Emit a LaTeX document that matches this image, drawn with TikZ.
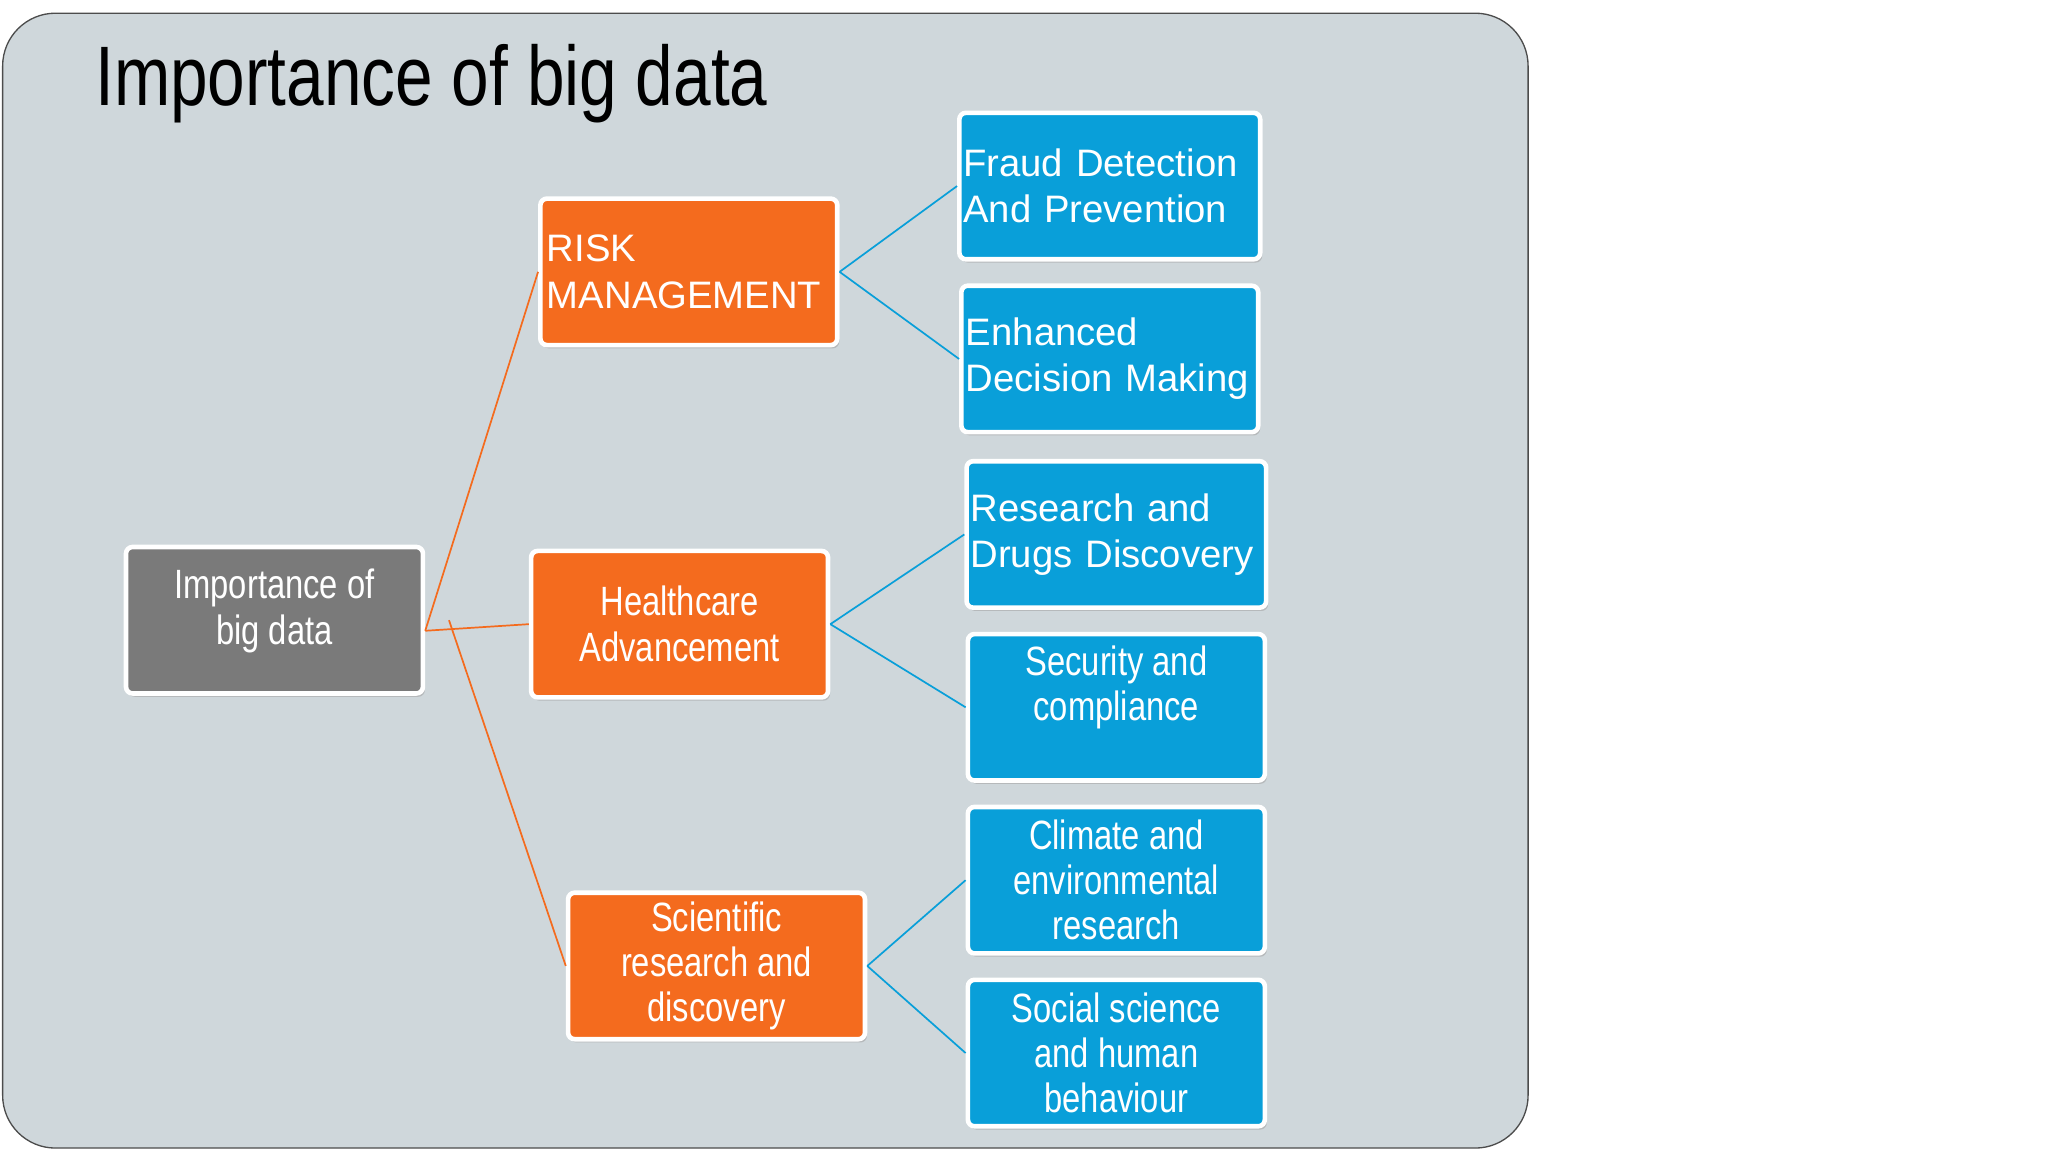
\documentclass[tikz,border=0pt]{standalone}
\usepackage{fontspec}
\setmainfont{Liberation Sans}
\newfontfamily\narrowf[FakeStretch=0.8]{Liberation Sans}
\usetikzlibrary{shadows}
\definecolor{bgc}{HTML}{CFD7DB}
\definecolor{orng}{HTML}{F46B1E}
\definecolor{blu}{HTML}{099FD9}
\definecolor{gry}{HTML}{7A7A7A}
\tikzset{
 boxb/.style={draw=white,line width=3.5pt,rounded corners=5pt,minimum width=225pt,minimum height=111pt,
   text=white,font=\fontsize{29}{35}\selectfont,drop shadow={shadow xshift=1.5pt,shadow yshift=-2.5pt,fill=black!35,opacity=.6},inner sep=3pt},
 org/.style={boxb,fill=orng},
 bl/.style={boxb,fill=blu},
 ol/.style={draw=orng,line width=1.3pt},
 blc/.style={draw=blu,line width=1.3pt}
}
\begin{document}
\begin{tikzpicture}[x=1pt,y=-1pt]
\useasboundingbox (0,0) rectangle (1552,873);
\draw[fill=bgc,draw=black!70,line width=1pt,rounded corners=40pt] (2,10) rectangle (1158,870);
\node[anchor=base west,font=\narrowf\fontsize{64}{70}\selectfont,inner sep=0] (title) at (72,80) {Importance of big data};
\node[boxb,fill=gry,align=center,font=\narrowf\fontsize{31}{35}\selectfont,text depth=20pt] (root) at (208,470) {Importance of\\big data};
\node[org,align=left,text width=215pt] (risk) at (522,206) {RISK\\MANAGEMENT};
\node[org,align=center,font=\narrowf\fontsize{31}{35}\selectfont] (hc) at (515,473) {Healthcare\\Advancement};
\node[org,align=center,font=\narrowf\fontsize{31}{34}\selectfont] (sci) at (543,732) {Scientific\\research and\\discovery};
\node[bl,align=left,text width=222pt] (fraud) at (841,141) {Fraud Detection\\And Prevention};
\node[bl,align=left,text width=218pt] (enh) at (841,272) {Enhanced\\Decision Making};
\node[bl,align=left,text width=221pt] (res) at (846,405) {Research and\\Drugs Discovery};
\node[bl,align=center,font=\narrowf\fontsize{31}{34}\selectfont,text depth=36pt] (sec) at (846,536) {Security and\\compliance};
\node[bl,align=center,font=\narrowf\fontsize{31}{34}\selectfont] (cli) at (846,667) {Climate and\\environmental\\research};
\node[bl,align=center,font=\narrowf\fontsize{31}{34}\selectfont] (soc) at (846,798) {Social science\\and human\\behaviour};
\coordinate (r1) at ([yshift=-8pt]root.east);
\coordinate (r2) at ([xshift=18pt]root.east);
\draw[ol] (r1) -- (risk.west);
\draw[ol] (r1) -- (hc.west);
\draw[ol] (r2) -- (sci.west);
\draw[blc] (risk.east) -- (fraud.west);
\draw[blc] (risk.east) -- (enh.west);
\draw[blc] (hc.east) -- (res.west);
\draw[blc] (hc.east) -- (sec.west);
\draw[blc] (sci.east) -- (cli.west);
\draw[blc] (sci.east) -- (soc.west);
\end{tikzpicture}
\end{document}
